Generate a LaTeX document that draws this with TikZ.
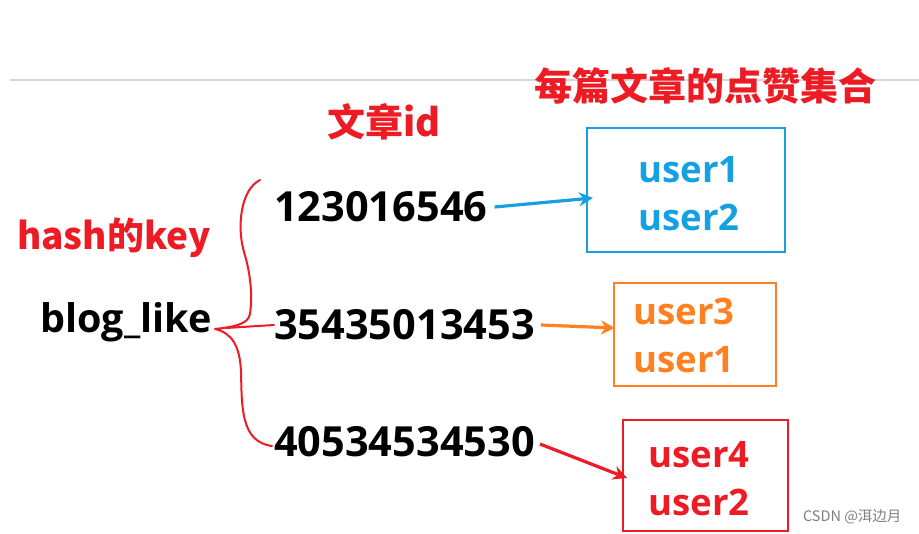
\documentclass[tikz,border=0pt]{standalone}
\usepackage{fontspec}
\setmainfont{Open Sans}
\newfontfamily\cjk{Noto Sans CJK SC}
\usetikzlibrary{arrows.meta,calc}
\definecolor{cblue}{RGB}{20,160,225}
\definecolor{corange}{RGB}{255,128,32}
\definecolor{cred}{RGB}{237,28,36}
\definecolor{cgray}{RGB}{215,215,215}
\begin{document}
\begin{tikzpicture}[x=1pt,y=-1pt,
  num/.style={font=\fontsize{41.5}{44}\selectfont\bfseries, text=black, inner sep=0pt},
  head/.style={font=\cjk\fontsize{37}{40}\selectfont\bfseries, text=cred, inner sep=0pt},
  usr/.style={font=\fontsize{36.5}{48}\selectfont\bfseries, inner sep=0pt, align=center},
  setbox/.style={draw, line width=2pt, inner sep=0pt},
  arr/.style={line width=3.2pt, -{Stealth[length=14pt,width=14pt]}}]
\useasboundingbox (0,0) rectangle (919,534);
\fill[white] (0,0) rectangle (919,534);
% gray rule
\coordinate (gl) at (10,80);
\coordinate (gr) at (919,80);
\draw[cgray, line width=1.2pt] (gl) -- (gr);
% headings
\node[head, font=\cjk\fontsize{38}{40}\selectfont\bfseries] (h1) at (705,86) {每篇文章的点赞集合};
\node[head, font=\cjk\fontsize{38}{40}\selectfont\bfseries] (h2) at (384,122) {文章id};
\node[head, anchor=west] (h3) at (17,238) {hash的key};
% key
\node[num, anchor=west, font=\fontsize{39.5}{42}\selectfont\bfseries] (key) at (40,322) {blog\_like};
% ids
\node[num, anchor=west] (id1) at (274,207) {123016546};
\node[num, anchor=west] (id2) at (274,325) {35435013453};
\node[num, anchor=west] (id3) at (274,442) {40534534530};
% boxes
\node[setbox, draw=cblue, minimum width=198pt, minimum height=124pt] (b1) at (686,190) {};
\node[setbox, draw=corange, minimum width=162pt, minimum height=103pt] (b2) at (695,334.5) {};
\node[setbox, draw=cred, minimum width=165pt, minimum height=111pt] (b3) at (705.5,475.5) {};
\node[usr, text=cblue] (t1) at (689,194) {user1\\user2};
\node[usr, text=corange] (t2) at (684,335) {user3\\user1};
\node[usr, text=cred] (t3) at (699,479) {user4\\user2};
% arrow ends
\coordinate (e1) at (593,198);
\coordinate (e2) at (615,328);
\coordinate (e3) at (627,478);
% arrows
\draw[arr, cblue] ($(id1.east)+(7,0)$) -- (e1);
\draw[arr, corange] ($(id2.east)+(6,0)$) -- (e2);
\draw[arr, cred] ($(id3.east)+(5,2)$) -- (e3);
% brace
\draw[cred, line width=2pt, line cap=round, line join=round]
  (260,180) .. controls (240,190) and (237,228) .. (244,252)
  .. controls (252,278) and (252,300) .. (250,314)
  .. controls (248,325) and (232,327) .. (215,329)
  .. controls (232,333) and (240,346) .. (241,372)
  .. controls (242,405) and (240,442) .. (272,446);
\draw[cred, line width=2pt, line cap=round] (226,328) -- (id2.west);
% watermark
\node[font=\cjk\fontsize{14.5}{16}\selectfont, text=gray, anchor=east] (wm) at (905,517) {CSDN @洱边月};
\end{tikzpicture}
\end{document}
